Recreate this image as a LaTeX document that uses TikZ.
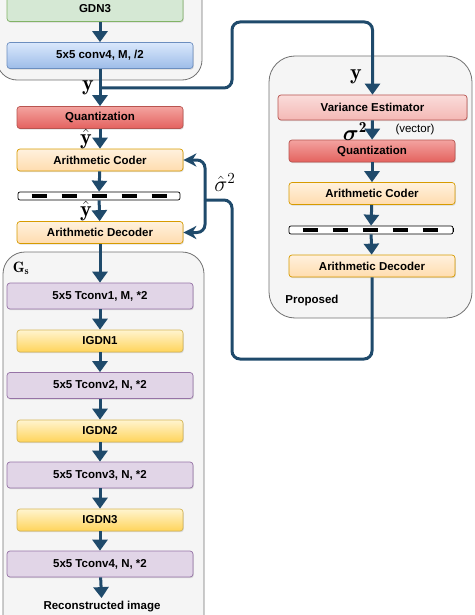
\RequirePackage{fix-cm}
\documentclass[tikz,border=0pt]{standalone}
\usepackage{amsmath,amssymb}
\usepackage{fontspec}
\setsansfont{Liberation Sans}
\usepackage{tikz}
\usetikzlibrary{positioning, arrows.meta, shadows}
\definecolor{linec}{HTML}{1F4A6B}
\definecolor{panelbg}{HTML}{F5F5F5}
\definecolor{paneledge}{HTML}{707070}
\definecolor{greenfill}{HTML}{D5E8D4}
\definecolor{greenedge}{HTML}{82B366}
\definecolor{bluetop}{HTML}{DAE8FC}
\definecolor{bluebot}{HTML}{9DBCE8}
\definecolor{blueedge}{HTML}{6C8EBF}
\definecolor{redtop}{HTML}{F3A3A0}
\definecolor{redbot}{HTML}{E4625E}
\definecolor{rededge}{HTML}{B85450}
\definecolor{pinktop}{HTML}{FADCDA}
\definecolor{pinkbot}{HTML}{F4B8B5}
\definecolor{orangetop}{HTML}{FFF1DE}
\definecolor{orangebot}{HTML}{FFDCAE}
\definecolor{orangeedge}{HTML}{D79B00}
\definecolor{yellowtop}{HTML}{FFF4CF}
\definecolor{yellowbot}{HTML}{FFD45A}
\definecolor{yellowedge}{HTML}{D6B656}
\definecolor{purplefill}{HTML}{E1D5E7}
\definecolor{purpleedge}{HTML}{9673A6}

\begin{document}
\begin{tikzpicture}[x=1pt, y=-1pt,
  panel/.style={draw=paneledge, fill=panelbg, line width=0.8pt},
  blk/.style={draw, rounded corners=3pt, inner sep=0pt, line width=0.7pt,
    font=\sffamily\bfseries\fontsize{11.5}{13}\selectfont,
    drop shadow={shadow xshift=0.8pt, shadow yshift=-1.2pt, opacity=0.25}},
  wide/.style={blk, minimum width=186pt, minimum height=26pt},
  narrow/.style={blk, minimum width=166pt, minimum height=22pt},
  gdn/.style={blk, draw=greenedge, fill=greenfill, minimum width=176pt, minimum height=25pt},
  conv/.style={wide, draw=blueedge, top color=bluetop, bottom color=bluebot},
  tconv/.style={wide, draw=purpleedge, fill=purplefill},
  igdn/.style={narrow, draw=yellowedge, top color=yellowtop, bottom color=yellowbot},
  quant/.style={narrow, draw=rededge, top color=redtop, bottom color=redbot},
  varest/.style={blk, draw=rededge, top color=pinktop, bottom color=pinkbot, minimum width=189pt, minimum height=25pt},
  coder/.style={narrow, draw=orangeedge, top color=orangetop, bottom color=orangebot},
  bitbar/.style={draw=black, fill=white, rounded corners=2pt, line width=0.7pt, minimum height=8pt, inner sep=0pt},
  bits/.style={line width=4pt, black, dash pattern=on 15pt off 15pt, dash phase=16pt},
  lbl/.style={font=\sffamily\bfseries\fontsize{11.5}{13}\selectfont},
  mlbl/.style={font=\fontsize{22}{24}\selectfont, inner sep=0pt},
  arrow/.style={-{Triangle[length=11pt, width=15pt]}, line width=3pt, linec},
  line/.style={line width=3pt, linec, rounded corners=8pt},
  sarrow/.style={-{Stealth[length=13pt, width=13pt, inset=4pt]}, line width=3pt, linec, rounded corners=8pt}
]
  \clip (0,0) rectangle (474,615);

  % panels
  \draw[panel, rounded corners=20pt] (-3,-30) rectangle (202,80);
  \draw[panel, rounded corners=22pt] (3,252) rectangle (204,660);
  \draw[panel, rounded corners=26pt] (269,56) rectangle (472,318);

  % encoder end and main path
  \node[gdn] (gdn3) at (95,9) {GDN3};
  \node[conv] (conv4) at (100,55.5) {5x5 conv4, M, /2};
  \node[quant] (quant) at (100,117.5) {Quantization};
  \node[coder] (coder) at (100,160) {Arithmetic Coder};
  \node[bitbar, minimum width=162pt] (bar) at (99,196) {};
  \node[coder] (decoder) at (100,232.5) {Arithmetic Decoder};

  % synthesis G_s
  \node[tconv] (tconv1) at (100,296) {5x5 Tconv1, M, *2};
  \node[igdn] (igdn1) at (100,341) {IGDN1};
  \node[tconv] (tconv2) at (100,385.5) {5x5 Tconv2, N, *2};
  \node[igdn] (igdn2) at (100,431) {IGDN2};
  \node[tconv] (tconv3) at (100,475) {5x5 Tconv3, N, *2};
  \node[igdn] (igdn3) at (100,520) {IGDN3};
  \node[tconv] (tconv4) at (100,564) {5x5 Tconv4, N, *2};
  \node[lbl] (recon) at (102,607) {Reconstructed image};

  % proposed branch
  \node[varest] (var) at (372.5,107.5) {Variance Estimator};
  \node[quant] (quant2) at (372,151) {Quantization};
  \node[coder] (coder2) at (372,193.5) {Arithmetic Coder};
  \node[bitbar, minimum width=164pt] (bar2) at (371,230) {};
  \node[coder] (decoder2) at (372,266) {Arithmetic Decoder};
  \node[lbl] (prop) at (312,301) {Proposed};

  % labels
  \node[mlbl] (ylbl) at (88,88) {$\mathbf{y}$};
  \node[mlbl] (yhat1) at (86,139) {$\hat{\mathbf{y}}$};
  \node[mlbl] (yhat2) at (86,211) {$\hat{\mathbf{y}}$};
  \node[mlbl] (ylbl2) at (356,77) {$\mathbf{y}$};
  \node[mlbl] (sig) at (355,131) {$\boldsymbol{\sigma}^{\mathbf{2}}$};
  \node[font=\sffamily\fontsize{11.5}{13}\selectfont] (vec) at (415,130) {(vector)};
  \node[mlbl] (sighat) at (225,183) {$\hat{\sigma}^2$};
  \node[mlbl, font=\fontsize{15}{17}\selectfont] (gs) at (21,268) {$\mathbf{G_s}$};

  \coordinate (ybr) at (100,88);
  \coordinate (ytop) at (232,22);
  \coordinate (sbot) at (232,359);
  \coordinate (sfork) at (205,200);

  % bits
  \draw[bits] (bar.west) -- (bar.east);
  \draw[bits] (bar2.west) -- (bar2.east);

  % arrows
  \draw[arrow] (conv4.north |- gdn3.south) -- (conv4.north);
  \draw[arrow] (conv4) -- (quant);
  \draw[arrow] (quant) -- (coder);
  \draw[arrow] (coder) -- (bar);
  \draw[arrow] (bar) -- (decoder);
  \draw[arrow] (decoder) -- (tconv1);
  \draw[arrow] (tconv1) -- (igdn1);
  \draw[arrow] (igdn1) -- (tconv2);
  \draw[arrow] (tconv2) -- (igdn2);
  \draw[arrow] (igdn2) -- (tconv3);
  \draw[arrow] (tconv3) -- (igdn3);
  \draw[arrow] (igdn3) -- (tconv4);
  \draw[arrow] (tconv4) -- (recon);

  \draw[arrow, rounded corners=8pt] (ybr) -| (ytop) -| (var.north);
  \draw[arrow] (var) -- (quant2);
  \draw[arrow] (quant2) -- (coder2);
  \draw[arrow] (coder2) -- (bar2);
  \draw[arrow] (bar2) -- (decoder2);

  \draw[line] (decoder2.south) |- (sbot) |- (sfork);
  \draw[sarrow] (sfork) |- (coder.east);
  \draw[sarrow] (sfork) |- (decoder.east);
\end{tikzpicture}
\end{document}
